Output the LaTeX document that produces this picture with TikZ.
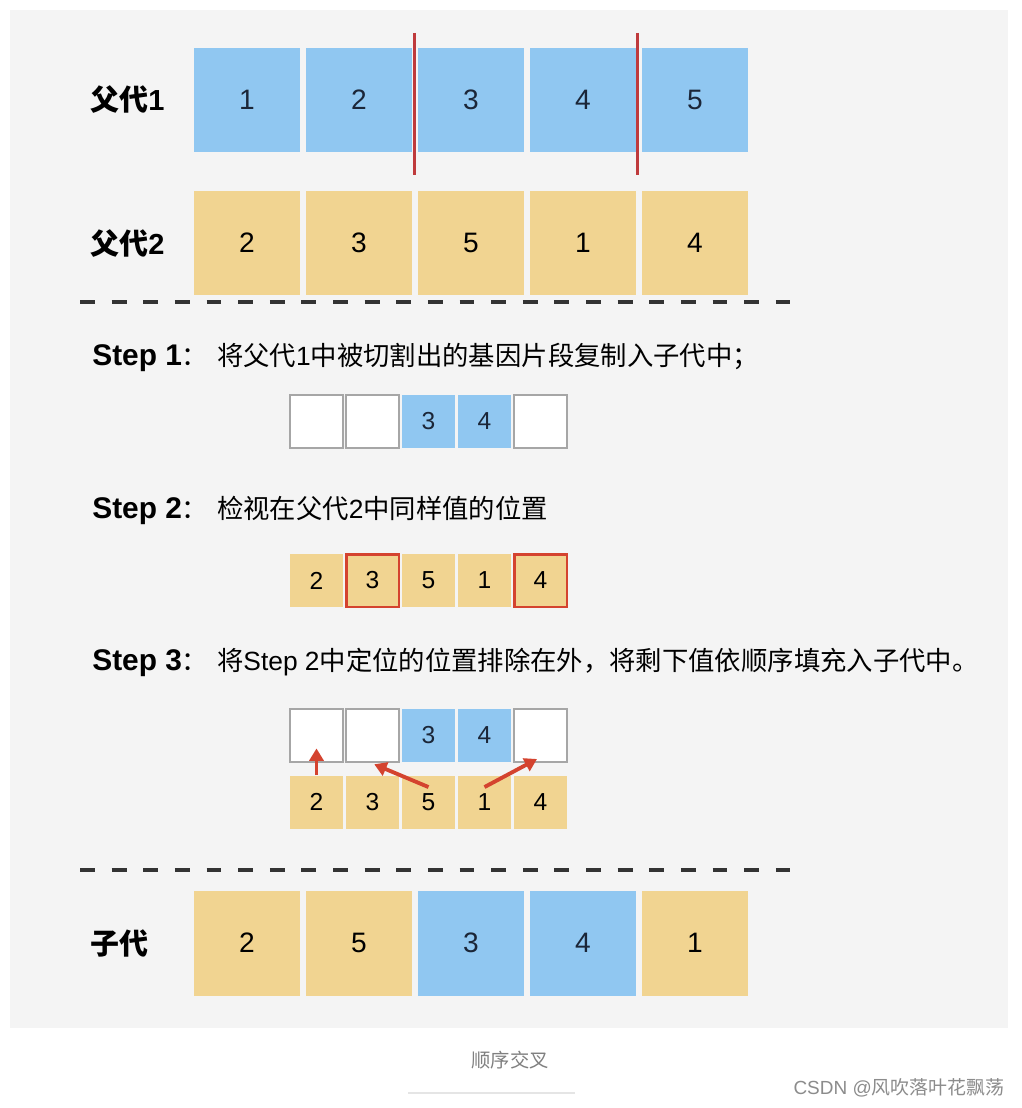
\documentclass[tikz,border=0pt]{standalone}
\usepackage{fontspec}
\setmainfont{Liberation Sans}
\newfontfamily\cjk{Noto Sans CJK SC}
\usetikzlibrary{positioning}
\usetikzlibrary{arrows.meta}
\usepackage{xcolor}
\definecolor{geneblue}{HTML}{90C7F1}
\definecolor{genesand}{HTML}{F1D491}
\definecolor{cutred}{HTML}{BF3A3C}
\definecolor{markred}{HTML}{D4432F}
\definecolor{panelgray}{HTML}{F4F4F4}
\definecolor{bluetext}{HTML}{1B2638}
\newcommand{\steplabel}[1]{{\fontsize{17}{20}\selectfont\bfseries Step #1}{\cjk ：\hspace{5pt}}}

\begin{document}
\begin{tikzpicture}[x=0.02cm,y=-0.02cm,
    bigblue/.style={fill=geneblue, text=bluetext, minimum width=2.12cm, minimum height=2.1cm, inner sep=0pt, font=\fontsize{16}{18}\selectfont},
    bigsand/.style={bigblue, fill=genesand, text=black},
    smallblue/.style={fill=geneblue, text=bluetext, minimum width=1.06cm, minimum height=1.06cm, inner sep=0pt, font=\fontsize{14}{16}\selectfont},
    smallsand/.style={smallblue, fill=genesand, text=black},
    emptybox/.style={smallblue, fill=white, draw=gray!70, line width=0.6pt},
    picked/.style={draw=markred, line width=1.7pt},
    rowlabel/.style={anchor=west, inner sep=0pt, font=\fontsize{16.5}{18}\selectfont\bfseries},
    steptext/.style={anchor=west, inner sep=0pt, font=\fontsize{15}{18}\selectfont},
    cutline/.style={cutred, line width=1.7pt},
    splitline/.style={black!80, line width=2.2pt, dash pattern=on 8.5pt off 9.5pt},
    redarrow/.style={-{Triangle[length=7pt,width=8pt]}, markred, line width=2.2pt}]

    \fill[white] (0,0) rectangle (1021,1108);
    \useasboundingbox (0,0) rectangle (1021,1108);
    \fill[panelgray] (10,10) rectangle (1008,1028);

    % parents
    \node[rowlabel] (lab1) at (90,100) {{\cjk 父代}1};
    \node[bigblue] (pa1) at (247,100) {1};
    \node[bigblue] (pa2) at (359,100) {2};
    \node[bigblue] (pa3) at (471,100) {3};
    \node[bigblue] (pa4) at (583,100) {4};
    \node[bigblue] (pa5) at (695,100) {5};

    \node[rowlabel] (lab2) at (90,243) {{\cjk 父代}2};
    \node[bigsand] (pb1) at (247,243) {2};
    \node[bigsand] (pb2) at (359,243) {3};
    \node[bigsand] (pb3) at (471,243) {5};
    \node[bigsand] (pb4) at (583,243) {1};
    \node[bigsand] (pb5) at (695,243) {4};

    \coordinate (cut1top) at (414,33);
    \coordinate (cut1bot) at (414,175);
    \coordinate (cut2top) at (637,33);
    \coordinate (cut2bot) at (637,175);
    \draw[cutline] (cut1top) -- (cut1bot);
    \draw[cutline] (cut2top) -- (cut2bot);

    \coordinate (splitAl) at (80,302);
    \coordinate (splitAr) at (790,302);
    \draw[splitline] (splitAl) -- (splitAr);

    % step 1
    \node[steptext] (step1) at (92,357) {\steplabel{1}{\cjk 将父代}1{\cjk 中被切割出的基因片段复制入子代中；}};
    \node[emptybox] (sa1) at (316.5,421.5) {};
    \node[emptybox] (sa2) at (372.5,421.5) {};
    \node[smallblue] (sa3) at (428.5,421.5) {3};
    \node[smallblue] (sa4) at (484.5,421.5) {4};
    \node[emptybox] (sa5) at (540.5,421.5) {};

    % step 2
    \node[steptext] (step2) at (92,510) {\steplabel{2}{\cjk 检视在父代}2{\cjk 中同样值的位置}};
    \node[smallsand] (sb1) at (316.5,580.5) {2};
    \node[smallsand, picked] (sb2) at (372.5,580.5) {3};
    \node[smallsand] (sb3) at (428.5,580.5) {5};
    \node[smallsand] (sb4) at (484.5,580.5) {1};
    \node[smallsand, picked] (sb5) at (540.5,580.5) {4};

    % step 3
    \node[steptext] (step3) at (92,662) {\steplabel{3}{\cjk 将}Step 2{\cjk 中定位的位置排除在外，将剩下值依顺序填充入子代中。}};
    \node[emptybox] (ta1) at (316.5,735.5) {};
    \node[emptybox] (ta2) at (372.5,735.5) {};
    \node[smallblue] (ta3) at (428.5,735.5) {3};
    \node[smallblue] (ta4) at (484.5,735.5) {4};
    \node[emptybox] (ta5) at (540.5,735.5) {};
    \node[smallsand] (tb1) at (316.5,802) {2};
    \node[smallsand] (tb2) at (372.5,802) {3};
    \node[smallsand] (tb3) at (428.5,802) {5};
    \node[smallsand] (tb4) at (484.5,802) {1};
    \node[smallsand] (tb5) at (540.5,802) {4};

    \draw[redarrow] (tb1.north) -- ([yshift=8pt]ta1.south);
    \draw[redarrow] ([yshift=8.5pt]tb3.center) -- ([xshift=1pt,yshift=-1pt]ta2.south);
    \draw[redarrow] ([yshift=8.5pt]tb4.center) -- ([xshift=-2pt,yshift=2pt]ta5.south);

    \coordinate (splitBl) at (80,870);
    \coordinate (splitBr) at (790,870);
    \draw[splitline] (splitBl) -- (splitBr);

    % child
    \node[rowlabel] (labc) at (90,943) {\cjk 子代};
    \node[bigsand] (c1) at (247,943) {2};
    \node[bigsand] (c2) at (359,943) {5};
    \node[bigblue] (c3) at (471,943) {3};
    \node[bigblue] (c4) at (583,943) {4};
    \node[bigsand] (c5) at (695,943) {1};

    % caption
    \node[text=gray, font=\fontsize{11}{13}\selectfont\cjk] (cap) at (510,1060) {顺序交叉};
    \coordinate (capl) at (408,1093);
    \coordinate (capr) at (575,1093);
    \draw[black!10, line width=0.6pt] (capl) -- (capr);
    \node[anchor=east, inner sep=0pt, text=gray!90, font=\fontsize{10.8}{13}\selectfont] (credit) at (1005,1088) {CSDN @{\cjk 风吹落叶花飘荡}};
\end{tikzpicture}
\end{document}
